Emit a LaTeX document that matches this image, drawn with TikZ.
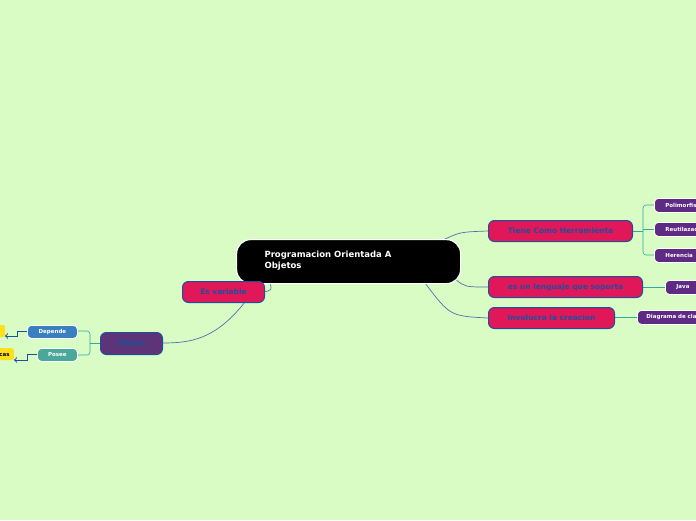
\documentclass[tikz,border=0pt]{standalone}
\usepackage{fontspec}
\setmainfont{DejaVu Sans}
\begin{document}
\begin{tikzpicture}[x=1pt,y=-1pt,
  main/.style={fill=pink!10!magenta!80!red, fill=mainpink, draw=linkblue, line width=1pt, rounded corners=6pt, text=linkblue, font=\bfseries\fontsize{7.5}{9}\selectfont, anchor=north west, inner sep=0pt},
  sub/.style={fill=subpurple, draw=white, line width=0.8pt, rounded corners=4pt, text=white, font=\bfseries\fontsize{5.5}{6}\selectfont, anchor=north west, inner sep=0pt},
  conn/.style={draw=linkblue!80, line width=0.7pt},
  brk/.style={draw=teal!50!cyan!60!gray, line width=0.6pt, rounded corners=3pt}]
\definecolor{bg}{HTML}{D9FCC4}
\definecolor{mainpink}{HTML}{E0185A}
\definecolor{linkblue}{HTML}{1F4E9A}
\definecolor{subpurple}{HTML}{5E2A84}
\definecolor{objpurple}{HTML}{5E3478}
\definecolor{depblue}{HTML}{3A7FC0}
\definecolor{poteal}{HTML}{4AA89A}
\definecolor{yel}{HTML}{FFE01A}
\path[use as bounding box] (0,0) rectangle (696,520);
\clip (0,0) rectangle (696,520);
\fill[bg] (0,0) rectangle (696,520);
% connectors
\draw[conn] (443,240) .. controls (460,232) .. (488,231) coordinate (t1);
\draw[conn] (455,279) .. controls (465,287) .. (488,287);
\draw[conn] (425,283) .. controls (450,316) .. (488,318);
\draw[conn] (270,283) .. controls (272,290) .. (264,292);
\draw[conn] (245,302) .. controls (215,340) and (190,343) .. (162,343);
\draw[brk] (632,231) -- (643,231);
\draw[brk] (654,205) -- (643,205) -- (643,255) -- (654,255);
\draw[brk] (643,229) -- (654,229);
\draw[brk] (642,287) -- (665,287);
\draw[brk] (614,317) -- (637,317);
\draw[brk] (100,343) -- (90,343);
\draw[brk] (77,331) -- (90,331) -- (90,355) -- (77,355);
\draw[linkblue, line width=1pt, ->] (27,331) -- (17,331) -- (17,336) -- (5,336);
\draw[linkblue, line width=1pt, ->] (37,354) -- (27,354) -- (27,360) -- (14,360);
% main
\node[fill=black, draw=white, line width=1.2pt, rounded corners=14pt, minimum width=224pt, minimum height=44pt, anchor=north west, inner sep=0pt] (m) at (236,239) {};
\node[text=white, font=\bfseries\fontsize{8.5}{11}\selectfont, align=left, anchor=west] (mt) at (261,261) {Programacion Orientada A\\Objetos};
% branches
\node[main, minimum width=144pt, minimum height=21pt] (a) at (488,220) {Tiene Como Herramienta};
\node[main, minimum width=154pt, minimum height=21pt] (b) at (488,276) {es un lenguaje que soporta};
\node[main, minimum width=126pt, minimum height=21pt] (c) at (488,307) {Involucra la creacion};
\node[main, minimum width=82pt, minimum height=21pt] (d) at (182,281) {Es variable};
\node[main, fill=objpurple, minimum width=62pt, minimum height=22pt] (o) at (100,332) {Objeto};
\node[sub, minimum width=60pt, minimum height=14pt, text width=50pt, align=left] (p1) at (654,198) {\hspace*{6pt}Polimorfismo};
\node[sub, minimum width=60pt, minimum height=14pt, text width=50pt, align=left] (p2) at (654,222) {\hspace*{6pt}Reutilazacion};
\node[sub, minimum width=60pt, minimum height=14pt, text width=50pt, align=left] (p3) at (654,248) {\hspace*{6pt}Herencia};
\node[sub, minimum width=40pt, minimum height=14pt, text width=34pt, align=left] (j) at (665,280) {\hspace*{8pt}Java};
\node[sub, minimum width=80pt, minimum height=14pt, text width=70pt, align=left] (dg) at (637,310) {\hspace*{4pt}Diagrama de clases};
\node[sub, fill=depblue, minimum width=50pt, minimum height=13pt] (dep) at (27,325) {Depende};
\node[sub, fill=poteal, minimum width=40pt, minimum height=13pt] (pos) at (37,348) {Posee};
\node[fill=yel, rounded corners=2pt, minimum width=35pt, minimum height=12pt, anchor=north west, inner sep=0pt, font=\bfseries\fontsize{5.5}{6}\selectfont, text=black] (y1) at (-30,325) {};
\node[fill=yel, rounded corners=2pt, minimum width=54pt, minimum height=12pt, anchor=north east, inner sep=0pt, font=\bfseries\fontsize{5.5}{6}\selectfont, text=black, align=right] (y2) at (14,348) {Caracteristicas\,};
\end{tikzpicture}
\end{document}
